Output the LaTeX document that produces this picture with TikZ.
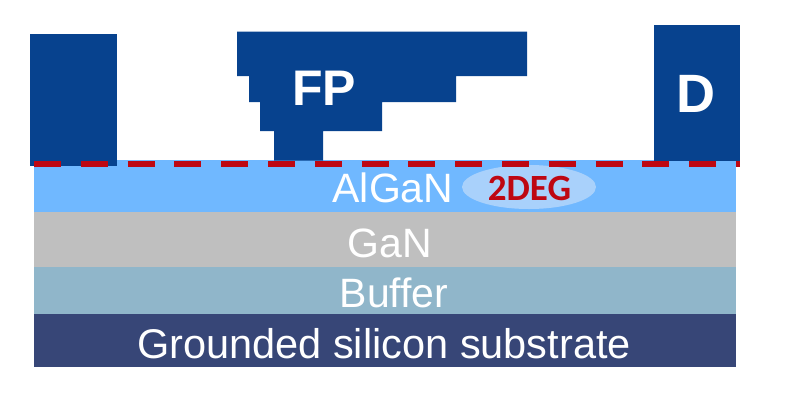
\documentclass[tikz,border=0pt]{standalone}
\usepackage{fontspec}
\usetikzlibrary{shapes.geometric}
\setmainfont{Liberation Sans}
\newfontfamily\carlito{Carlito}
\definecolor{metal}{HTML}{07428E}
\definecolor{algan}{HTML}{70B8FF}
\definecolor{gan}{HTML}{BFBFBF}
\definecolor{bufferc}{HTML}{90B6CA}
\definecolor{subst}{HTML}{374677}
\definecolor{deg}{HTML}{A9D1FB}
\definecolor{dashred}{HTML}{BE0712}
\tikzset{
  metalfill/.style={fill=metal,draw=none},
  layer/.style={draw=none,anchor=north west,inner sep=0pt,minimum width=702.5pt},
  layertext/.style={text=white,font=\fontsize{41}{41}\selectfont,inner sep=0pt,anchor=base},
  boldtext/.style={text=white,font=\fontsize{50}{50}\selectfont\bfseries,inner sep=0pt,anchor=base},
}
\begin{document}
\begin{tikzpicture}[x=1pt,y=-1pt]
\useasboundingbox (0,0) rectangle (800,410);
% layers
\node[layer,fill=algan,minimum height=52pt] (alganl) at (33.5,160) {};
\node[layer,fill=gan,minimum height=55pt] (ganl) at (33.5,212) {};
\node[layer,fill=bufferc,minimum height=47pt] (bufl) at (33.5,267) {};
\node[layer,fill=subst,minimum height=53pt] (subl) at (33.5,314) {};
% metal
\fill[metalfill] (30,33.5) rectangle (116.5,166);
\fill[metalfill] (653.5,25) rectangle (740,161);
\fill[metalfill] (237,31.5) -- (527,31.5) -- (527,76) -- (456,76) -- (456,102) -- (382,102) -- (382,131) -- (323,131) -- (323,160.5) -- (274,160.5) -- (274,131) -- (260,131) -- (260,102) -- (249,102) -- (249,76) -- (237,76) -- cycle;
% 2DEG
\node[ellipse,fill=deg,draw=none,minimum width=134pt,minimum height=44pt,inner sep=0pt] (degell) at (529,187) {};
% red dashed line
\coordinate (dl) at (34,164);
\coordinate (dr) at (740,164);
\draw[dashred,line width=6.5pt,dash pattern=on 27pt off 19.8pt] (dl) -- (dr);
% text
\node[layertext] (t1) at (393,202) {AlGaN};
\node[layertext] (t2) at (390,257) {GaN};
\node[layertext] (t3) at (394,307) {Buffer};
\node[layertext,font=\fontsize{41.5}{41.5}\selectfont] (t4) at (384,358) {Grounded silicon substrate};
\node[text=dashred,font=\fontsize{37}{37}\selectfont\carlito\bfseries,inner sep=0pt,anchor=base] (t5) at (529.5,200) {2DEG};
\node[boldtext] (fp) at (324,105) {FP};
\node[boldtext,font=\fontsize{54}{54}\selectfont\bfseries] (d) at (696,112) {D};
\end{tikzpicture}
\end{document}
